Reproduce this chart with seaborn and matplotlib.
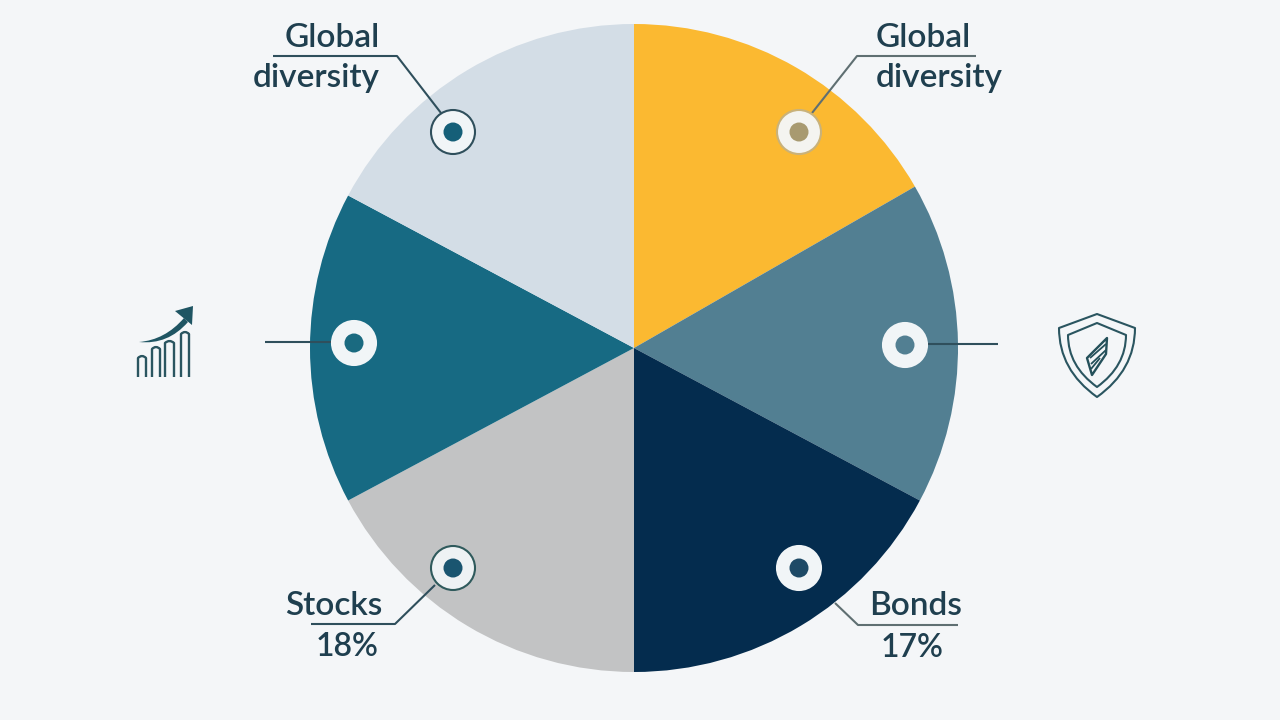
"""Six-slice portfolio pie with callouts and two small line icons."""

import matplotlib.pyplot as plt
from matplotlib.patches import Circle, PathPatch, Polygon
from matplotlib.path import Path
import seaborn as sns

# slices, clockwise from 12 o'clock
slices = ["Global diversity (right)", "Slate", "Bonds", "Stocks", "Teal", "Global diversity (left)"]
shares = [16.7, 16.1, 17.2, 17.2, 15.6, 17.2]
slice_colors = ["#fbb931", "#527f92", "#042c4e", "#c2c3c4", "#176a83", "#d3dde6"]

label_top = "Global"
label_bottom = "diversity"
label_stocks = "Stocks"
label_stocks_pct = "18%"
label_bonds = "Bonds"
label_bonds_pct = "17%"

BG = "#f4f6f8"
INK = "#1f3f4f"
LINE = "#2f4f5c"
ICON = "#2a5560"

sns.set_theme(style="white")
plt.rcParams["font.family"] = ["Lato", "DejaVu Sans"]

fig = plt.figure(figsize=(12.8, 7.2), dpi=100, facecolor=BG)
ax = fig.add_axes([0, 0, 1, 1])


def Y(y):
    # work in image pixels, y down
    return 720 - y


def path(points, color=LINE, lw=1.5, z=4):
    ax.plot([p[0] for p in points], [Y(p[1]) for p in points], color=color, lw=lw,
            solid_capstyle="butt", solid_joinstyle="round", zorder=z)


def label(x, y, text, size=24):
    ax.text(x, Y(y), text, ha="center", va="center", fontsize=size, color=INK,
            fontweight="semibold", zorder=6)


def marker(x, y, ring, dot, outline=None, r=22):
    ax.add_patch(Circle((x, Y(y)), r, fc=ring, ec=outline or ring, lw=1.5, zorder=5))
    ax.add_patch(Circle((x, Y(y)), 9.5, fc=dot, ec="none", zorder=6))


def curve(verts, codes, lw=1.5, color=ICON, fill="none"):
    verts = [(x, Y(y)) for x, y in verts]
    ax.add_patch(PathPatch(Path(verts, codes), fc=fill, ec=color, lw=lw, zorder=4,
                           joinstyle="round"))


# ── Pie ──────────────────────────────────────────────────────────────
ax.pie(
    shares,
    colors=slice_colors,
    center=(634, Y(348)),
    radius=324,
    startangle=90,
    counterclock=False,
    frame=True,
    wedgeprops={"linewidth": 0},
)
ax.set_xlim(0, 1280)
ax.set_ylim(0, 720)
ax.axis("off")

# ── Leader lines ─────────────────────────────────────────────────────
path([(273, 56), (397, 56), (441, 113)])
path([(976, 56), (857, 56), (812, 113)], color="#5f6f72")
path([(265, 342), (332, 342)])
path([(928, 344), (998, 344)])
path([(311, 624), (395, 624), (435, 585)])
path([(958, 625), (858, 625), (835, 603)], color="#5f6f72")

# ── Markers ──────────────────────────────────────────────────────────
marker(453, 132, "#f1f5f7", "#155f78", outline="#2f4f5c")
marker(799, 132, "#f4f4f0", "#a89a70", outline="#c9b27a")
marker(354, 343, "#f1f5f7", "#1a6a80")
marker(905, 345, "#f1f5f7", "#527f92")
marker(453, 568, "#eef2f4", "#1a5570", outline="#2f5a5c")
marker(799, 568, "#f1f5f7", "#1e4a66")

# ── Labels ───────────────────────────────────────────────────────────
label(332, 38, label_top)
label(316, 78, label_bottom)
label(923, 38, label_top)
label(939, 78, label_bottom)
label(334, 606, label_stocks)
label(347, 647, label_stocks_pct, size=23)
label(916, 606, label_bonds)
label(912, 648, label_bonds_pct, size=23)

# ── Growth icon ──────────────────────────────────────────────────────
for x0, x1, top in [(138, 146, 358), (152, 160, 349), (165, 174, 343), (181, 189, 334)]:
    mid = (x0 + x1) / 2
    curve([(x0, 377), (x0, top), (mid, top - 4), (x1, top), (x1, 377)],
          [Path.MOVETO, Path.LINETO, Path.CURVE3, Path.CURVE3, Path.LINETO], lw=1.7)
# swoosh tapering from the tail into the head
ax.add_patch(PathPatch(Path(
    [(139, Y(342)), (165, Y(340)), (184, Y(318)), (188, Y(322)), (168, Y(345)), (139, Y(342))],
    [Path.MOVETO, Path.CURVE3, Path.CURVE3, Path.LINETO, Path.CURVE3, Path.CURVE3],
), fc="#1f5563", ec="none", zorder=4))
ax.add_patch(Polygon([(193, Y(306)), (192, Y(325)), (175, Y(311))], closed=True,
                     fc="#1f5563", ec="none", zorder=4))

# ── Shield icon ──────────────────────────────────────────────────────
curve([(1097, 314), (1135, 328), (1135, 370), (1097, 397), (1059, 370), (1059, 328),
       (1059, 328), (1097, 314), (1097, 314)],
      [Path.MOVETO, Path.LINETO, Path.CURVE3, Path.CURVE3, Path.CURVE3, Path.CURVE3,
       Path.LINETO, Path.LINETO, Path.CLOSEPOLY])
curve([(1097, 323), (1126, 335), (1126, 366), (1097, 387), (1068, 366), (1068, 335),
       (1068, 335), (1097, 323), (1097, 323)],
      [Path.MOVETO, Path.LINETO, Path.CURVE3, Path.CURVE3, Path.CURVE3, Path.CURVE3,
       Path.LINETO, Path.LINETO, Path.CLOSEPOLY])
feather = [(1107, 338), (1106, 354), (1092, 375), (1087, 358)]
ax.add_patch(Polygon([(x, Y(y)) for x, y in feather], closed=True, fc="none", ec="#24505a",
                     lw=1.7, joinstyle="round", zorder=4))
path([(1106, 344), (1090, 358)], color="#24505a", lw=1.3)
path([(1106, 350), (1091, 364)], color="#24505a", lw=1.3)
path([(1100, 358), (1091, 369)], color="#24505a", lw=1.3)

fig.savefig("out.png", dpi=100, facecolor=BG)
plt.close(fig)
